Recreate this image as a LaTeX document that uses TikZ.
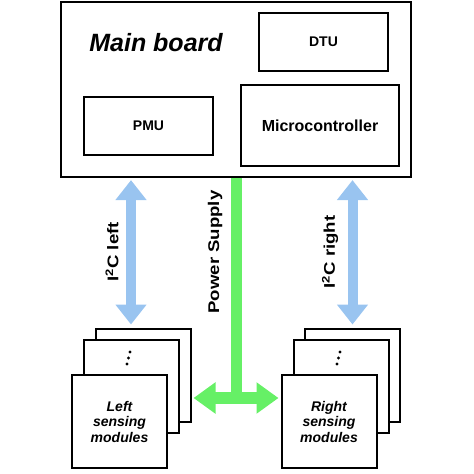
\documentclass[tikz,border=0pt]{standalone}
\usepackage{fontspec}
\setsansfont{Liberation Sans}
\usepackage{tikz}
\usetikzlibrary{arrows.meta}

\definecolor{busblue}{RGB}{153,196,240}
\definecolor{powergreen}{RGB}{102,240,102}

\begin{document}
\begin{tikzpicture}[x=1pt, y=-1pt]
      \tikzstyle{board}=[draw, line width=2.2pt, rectangle, inner sep=0pt]
      \tikzstyle{unit}=[draw, line width=2pt, rectangle, fill=white, inner sep=0pt,
         font=\sffamily\bfseries\fontsize{14}{16}\selectfont]
      \tikzstyle{sensor}=[unit, minimum width=95pt, minimum height=93pt,
         align=center, font=\sffamily\bfseries\itshape\fontsize{14}{15.5}\selectfont]
      \tikzstyle{bus}=[color=busblue, line width=10pt,
         {Triangle[width=30pt, length=20pt]}-{Triangle[width=30pt, length=20pt]}]
      \tikzstyle{power}=[color=powergreen, line width=11.5pt]
      \tikzstyle{tag}=[rotate=90, font=\sffamily\bfseries\fontsize{15.5}{17}\selectfont]

      \useasboundingbox (0, 0) rectangle (474, 474);

      % main board and its parts
      \node[board, minimum width=350pt, minimum height=175pt] (mainboard) at (236, 89.5) {};
      \node[font=\sffamily\bfseries\itshape\fontsize{25}{28}\selectfont] (title) at (156, 43) {Main board};
      \node[unit, minimum width=129pt, minimum height=58pt] (dtu) at (323.5, 42) {DTU};
      \node[unit, minimum width=129pt, minimum height=58pt] (pmu) at (148.5, 126) {PMU};
      \node[unit, minimum width=158pt, minimum height=81pt,
         font=\sffamily\bfseries\fontsize{16}{18}\selectfont] (mcu) at (320, 125.5) {Microcontroller};

      % sensing module stacks, back to front
      \node[sensor] (lback) at (143, 375) {};
      \node[sensor] (lmid) at (131, 386.5) {};
      \node[sensor] (lfront) at (119.5, 421.5) {Left\\sensing\\modules};
      \node[sensor] (rback) at (352.5, 375) {};
      \node[sensor] (rmid) at (341, 386.5) {};
      \node[sensor] (rfront) at (329, 421.5) {Right\\sensing\\modules};

      \foreach \stack in {lmid, rmid} {
         \fill ([shift={(-1, 13)}]\stack.north) circle (1.6pt);
         \fill ([shift={(-2.5, 19)}]\stack.north) circle (1.6pt);
         \fill ([shift={(-4, 25)}]\stack.north) circle (1.6pt);
      }

      % I2C lines
      \draw[bus, shorten <=2pt, shorten >=3pt] (mainboard.south -| lmid) -- (lback.north -| lmid);
      \draw[bus, shorten <=2pt, shorten >=3pt] (mainboard.south -| rback) -- (rback.north);
      \node[tag] (i2cleft) at (112, 252) {\scalebox{1.2}[1]{I\textsuperscript{2}C left}};
      \node[tag] (i2cright) at (330, 252) {\scalebox{1.2}[1]{I\textsuperscript{2}C right}};

      % power supply
      \coordinate (junction) at (236.5, 398);
      \draw[power] (mainboard.south -| junction) -- (junction);
      \draw[power, {Triangle[width=30pt, length=22pt]}-{Triangle[width=30pt, length=22pt]},
         shorten <=2pt, shorten >=2pt] (lback.east |- junction) -- (rfront.west |- junction);
      \node[tag] (supply) at (215, 252) {\scalebox{1.2}[1]{Power Supply}};

\end{tikzpicture}
\end{document}
